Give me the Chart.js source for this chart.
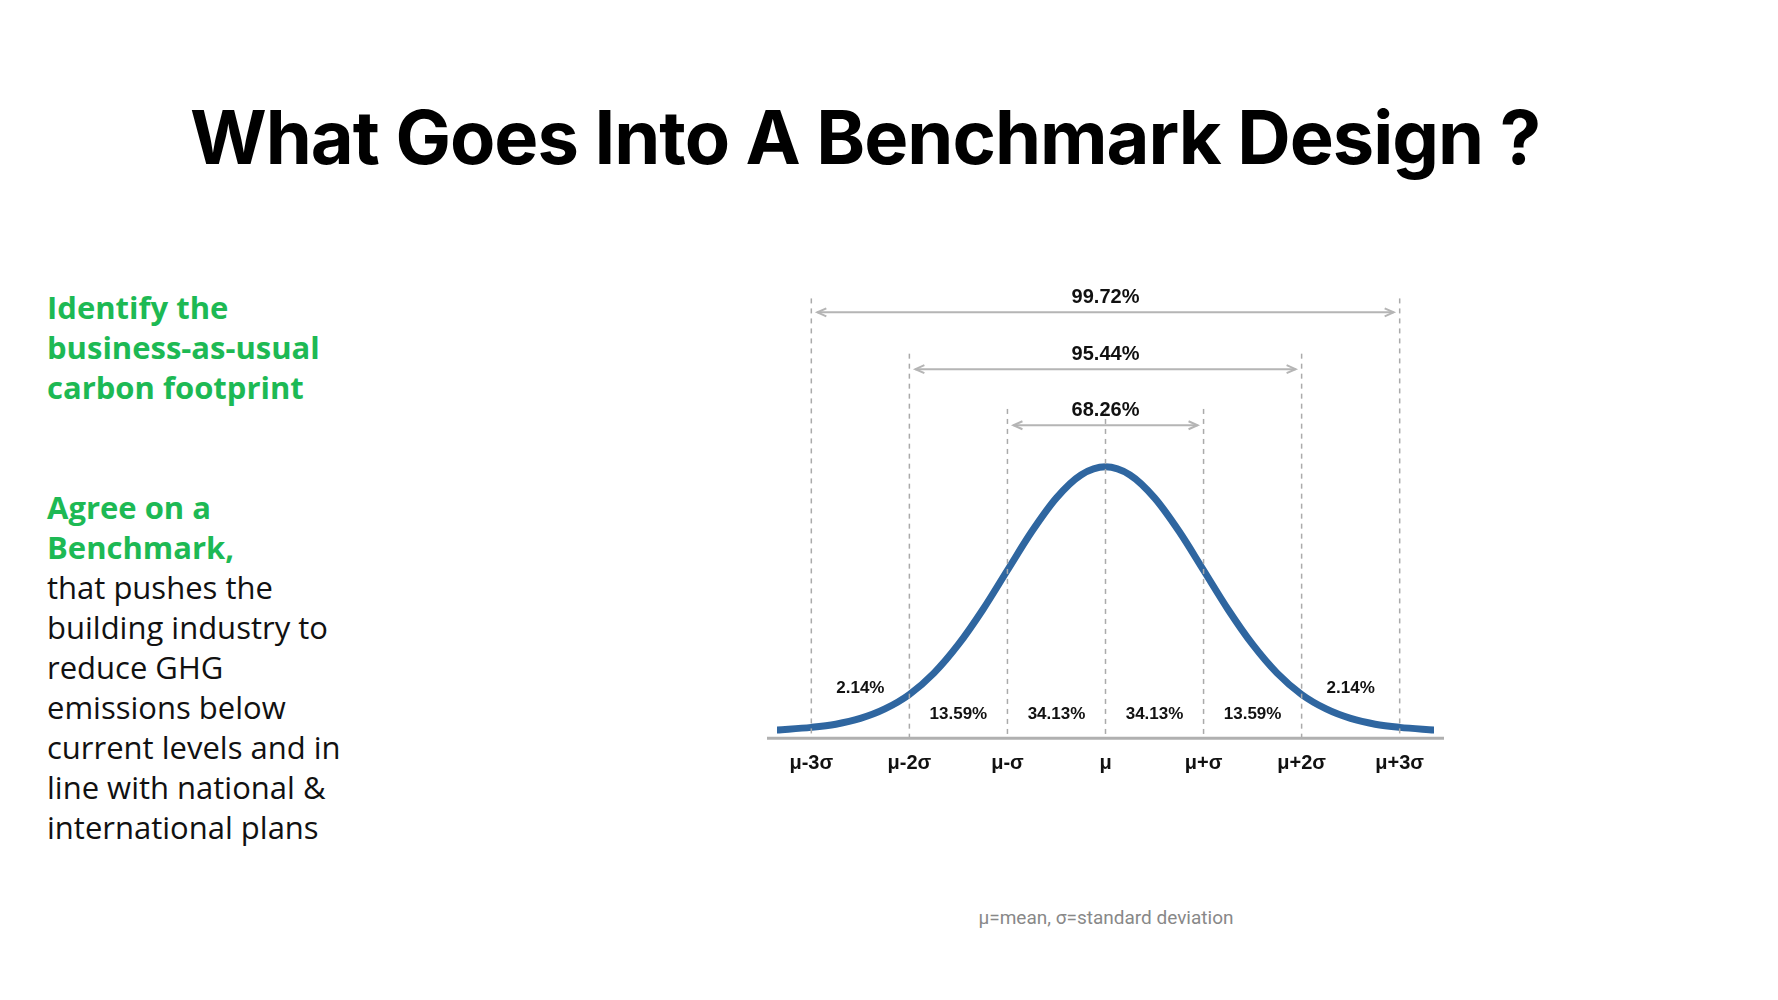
<!DOCTYPE html>
<html>
<head>
<meta charset="utf-8">
<script src="https://cdn.jsdelivr.net/npm/chart.js@4.4.0/dist/chart.umd.min.js"></script>
<style>
  body { margin: 0; background: #fff; width: 1778px; height: 1000px; position: relative; overflow: hidden; font-family: "Open Sans", sans-serif; }
  h1 { position: absolute; left: 190px; top: 92px; margin: 0; font-family: Inter, sans-serif; font-weight: 700; font-size: 74px; letter-spacing: -1px; color: #000; }
  .txt { position: absolute; left: 47px; font-size: 31px; line-height: 40px; color: #111; }
  .g { color: #1db954; font-weight: 700; }
  #wrap { position: absolute; left: 757px; top: 280px; width: 697px; height: 500px; }
  .note { position: absolute; left: 1106px; top: 906px; transform: translateX(-50%); font-family: Roboto, sans-serif; font-size: 19px; color: #888; white-space: nowrap; }
</style>
</head>
<body>
<h1>What Goes Into A Benchmark Design ?</h1>
<div class="txt" style="top:287px"><span class="g">Identify the<br>business-as-usual<br>carbon footprint</span></div>
<div class="txt" style="top:487px"><span class="g">Agree on a<br>Benchmark,</span><br>that pushes the<br>building industry to<br>reduce GHG<br>emissions below<br>current levels and in<br>line with national &amp;<br>international plans</div>
<div id="wrap"><canvas id="bell"></canvas></div>
<div class="note">μ=mean, σ=standard deviation</div>
<script>
// curve samples (x in σ, height relative to the peak)
const curveX = [-3.35, -3, -2.75, -2.5, -2.25, -2, -1.75, -1.5, -1.25, -1, -0.75, -0.5, -0.25, 0,
                0.25, 0.5, 0.75, 1, 1.25, 1.5, 1.75, 2, 2.25, 2.5, 2.75, 3, 3.35];
const curveY = [0.0, 0.01, 0.022, 0.044, 0.08, 0.135, 0.216, 0.325, 0.458, 0.607, 0.755, 0.882, 0.969, 1,
                0.969, 0.882, 0.755, 0.607, 0.458, 0.325, 0.216, 0.135, 0.08, 0.044, 0.022, 0.01, 0.0];
const tickValues = [-3, -2, -1, 0, 1, 2, 3];
const tickLabels = ['μ-3σ', 'μ-2σ', 'μ-σ', 'μ', 'μ+σ', 'μ+2σ', 'μ+3σ'];
const spanLabels = ['68.26%', '95.44%', '99.72%'];   // ±1σ, ±2σ, ±3σ
const regionCenters = [-2.5, -1.5, -0.5, 0.5, 1.5, 2.5];
const regionLabels = ['2.14%', '13.59%', '34.13%', '34.13%', '13.59%', '2.14%'];

const annotate = {
  id: 'annotate',
  afterDatasetsDraw(chart) {
    const { ctx, scales: { x, y } } = chart;
    const base = y.getPixelForValue(-0.031);
    ctx.save();
    // dashed guide lines
    ctx.strokeStyle = '#aaa'; ctx.lineWidth = 1.5; ctx.setLineDash([5, 5]);
    const tops = { 1: 1.22, 2: 1.43, 3: 1.64 };
    tickValues.forEach(v => {
      const px = x.getPixelForValue(v);
      const t = v === 0 ? 1.22 : tops[Math.abs(v)];
      ctx.beginPath(); ctx.moveTo(px, y.getPixelForValue(t)); ctx.lineTo(px, base); ctx.stroke();
    });
    ctx.setLineDash([]);
    // span arrows
    const arrowY = [1.158, 1.371, 1.587];
    ctx.strokeStyle = '#b5b5b5'; ctx.fillStyle = '#b5b5b5'; ctx.lineWidth = 2;
    spanLabels.forEach((lab, i) => {
      const k = i + 1, py = y.getPixelForValue(arrowY[i]);
      const l = x.getPixelForValue(-k) + 6, r = x.getPixelForValue(k) - 6;
      ctx.beginPath(); ctx.moveTo(l, py); ctx.lineTo(r, py); ctx.stroke();
      [[l, 1], [r, -1]].forEach(([p, d]) => {
        ctx.beginPath(); ctx.moveTo(p + d * 9, py - 4); ctx.lineTo(p, py); ctx.lineTo(p + d * 9, py + 4); ctx.stroke();
      });
      ctx.fillStyle = '#111'; ctx.font = 'bold 20px "Liberation Sans"';
      ctx.textAlign = 'center'; ctx.textBaseline = 'bottom';
      ctx.fillText(lab, x.getPixelForValue(0), py - 5);
      ctx.fillStyle = '#b5b5b5';
    });
    // baseline
    ctx.strokeStyle = '#b0b0b0'; ctx.lineWidth = 3;
    ctx.beginPath(); ctx.moveTo(x.left - 10, base); ctx.lineTo(x.right + 10, base); ctx.stroke();
    // region labels
    ctx.fillStyle = '#111'; ctx.font = 'bold 17px "Liberation Sans"'; ctx.textAlign = 'center'; ctx.textBaseline = 'middle';
    regionLabels.forEach((lab, i) => {
      const c = regionCenters[i];
      ctx.fillText(lab, x.getPixelForValue(c), y.getPixelForValue(Math.abs(c) > 2 ? 0.158 : 0.058));
    });
    // tick labels
    ctx.font = 'bold 20px "Liberation Sans"';
    tickValues.forEach((v, i) => ctx.fillText(tickLabels[i], x.getPixelForValue(v), y.getPixelForValue(-0.127)));
    ctx.restore();
  }
};

new Chart(document.getElementById('bell'), {
  type: 'line',
  data: {
    datasets: [{
      data: curveX.map((v, i) => ({ x: v, y: curveY[i] })),
      borderColor: '#2f66a0', borderWidth: 7, pointRadius: 0,
      cubicInterpolationMode: 'monotone', borderCapStyle: 'round', fill: false
    }]
  },
  options: {
    responsive: true, maintainAspectRatio: false, animation: false,
    layout: { padding: { left: 20, right: 20, top: 0, bottom: 0 } },
    plugins: { legend: { display: false }, tooltip: { enabled: false } },
    scales: {
      x: { type: 'linear', min: -3.35, max: 3.35, display: false },
      y: { min: -0.19, max: 1.71, display: false }
    }
  },
  plugins: [annotate]
});
</script>
</body>
</html>
